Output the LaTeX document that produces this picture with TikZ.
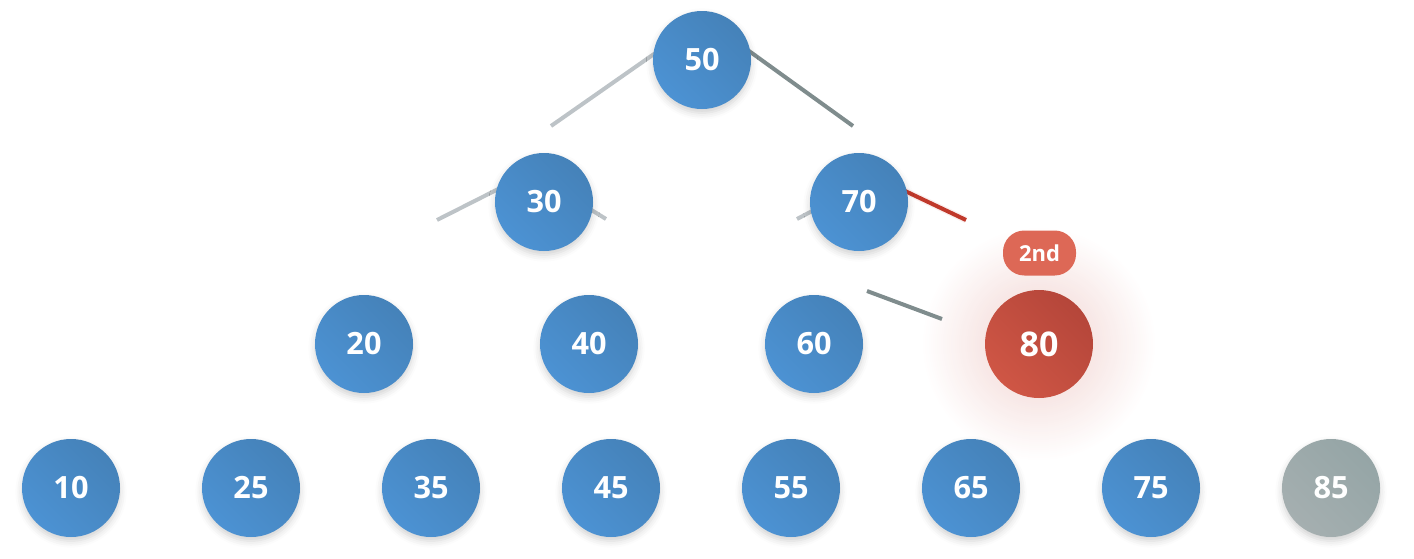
\documentclass[tikz,border=0pt]{standalone}
\usepackage{fontspec}
\setmainfont{Open Sans}
\usetikzlibrary{shadows.blur}
\definecolor{bLight}{HTML}{4C92D3}
\definecolor{bDark}{HTML}{4582B9}
\definecolor{rLight}{HTML}{CF5645}
\definecolor{rDark}{HTML}{B5463A}
\definecolor{gLight}{HTML}{A5AFB0}
\definecolor{gDark}{HTML}{95A5A6}
\definecolor{edgeLight}{HTML}{BDC3C7}
\definecolor{edgeDark}{HTML}{7F8C8D}
\definecolor{edgeRed}{HTML}{C0392B}
\definecolor{badgeRed}{HTML}{DD6856}
\tikzset{
  treenode/.style={circle, minimum size=98*0.75pt, inner sep=0pt, text=white,
    font=\fontsize{23}{26}\selectfont\bfseries,
    blur shadow={shadow xshift=0pt, shadow yshift=-3pt, shadow blur radius=5pt, shadow opacity=18}},
  bluenode/.style={treenode, top color=bDark, bottom color=bLight, shading angle=-45},
  graynode/.style={treenode, top color=gDark, bottom color=gLight, shading angle=-45},
  rednode/.style={circle, minimum size=108*0.75pt, inner sep=0pt, text=white,
    font=\fontsize{25.5}{29}\selectfont\bfseries, top color=rDark, bottom color=rLight, shading angle=-45},
  edgeline/.style={line width=3pt},
  badge/.style={rounded corners=16pt, fill=badgeRed, text=white, minimum width=73*0.75pt,
    minimum height=45*0.75pt, inner sep=0pt, font=\fontsize{16.5}{18}\selectfont\bfseries}
}
\begin{document}
\begin{tikzpicture}[x=0.75pt, y=-0.75pt]
\useasboundingbox (0,0) rectangle (1414,558);
% glow around 80
\foreach \r in {56,58,...,116} {
  \fill[edgeRed, fill opacity=0.0042] (1039,344) circle[radius=\r];
}
% free edge end points
\coordinate (a1) at (551,126);  \coordinate (a2) at (674,40);
\coordinate (b1) at (853,126);  \coordinate (b2) at (731,38);
\coordinate (c1) at (437,220);  \coordinate (c2) at (526,175);
\coordinate (d1) at (606,219);  \coordinate (d2) at (572,198);
\coordinate (e1) at (797,219);  \coordinate (e2) at (835,199);
\coordinate (f1) at (966,220);  \coordinate (f2) at (882,180);
\coordinate (g1) at (867,291);  \coordinate (g2) at (942,319);
% edges
\draw[edgeline, edgeLight] (a1) -- (a2);
\draw[edgeline, edgeDark] (b1) -- (b2);
\draw[edgeline, edgeLight] (c1) -- (c2);
\draw[edgeline, edgeLight] (d1) -- (d2);
\draw[edgeline, edgeLight] (e1) -- (e2);
\draw[line width=5pt, edgeRed, opacity=0.08] (f1) -- (f2);
\draw[edgeline, edgeRed] (f1) -- (f2);
\draw[edgeline, edgeDark] (g1) -- (g2);
% nodes
\node[bluenode] (n50) at (702,60) {50};
\node[bluenode] (n30) at (544,202) {30};
\node[bluenode] (n70) at (859,202) {70};
\node[bluenode] (n20) at (364,344) {20};
\node[bluenode] (n40) at (589,344) {40};
\node[bluenode] (n60) at (814,344) {60};
\node[rednode] (n80) at (1039,344) {80};
\node[bluenode] (n10) at (71,488) {10};
\node[bluenode] (n25) at (251,488) {25};
\node[bluenode] (n35) at (431,488) {35};
\node[bluenode] (n45) at (611,488) {45};
\node[bluenode] (n55) at (791,488) {55};
\node[bluenode] (n65) at (971,488) {65};
\node[bluenode] (n75) at (1151,488) {75};
\node[graynode] (n85) at (1331,488) {85};
\node[badge] (tag) at (1039.5,253) {2nd};
\end{tikzpicture}
\end{document}
